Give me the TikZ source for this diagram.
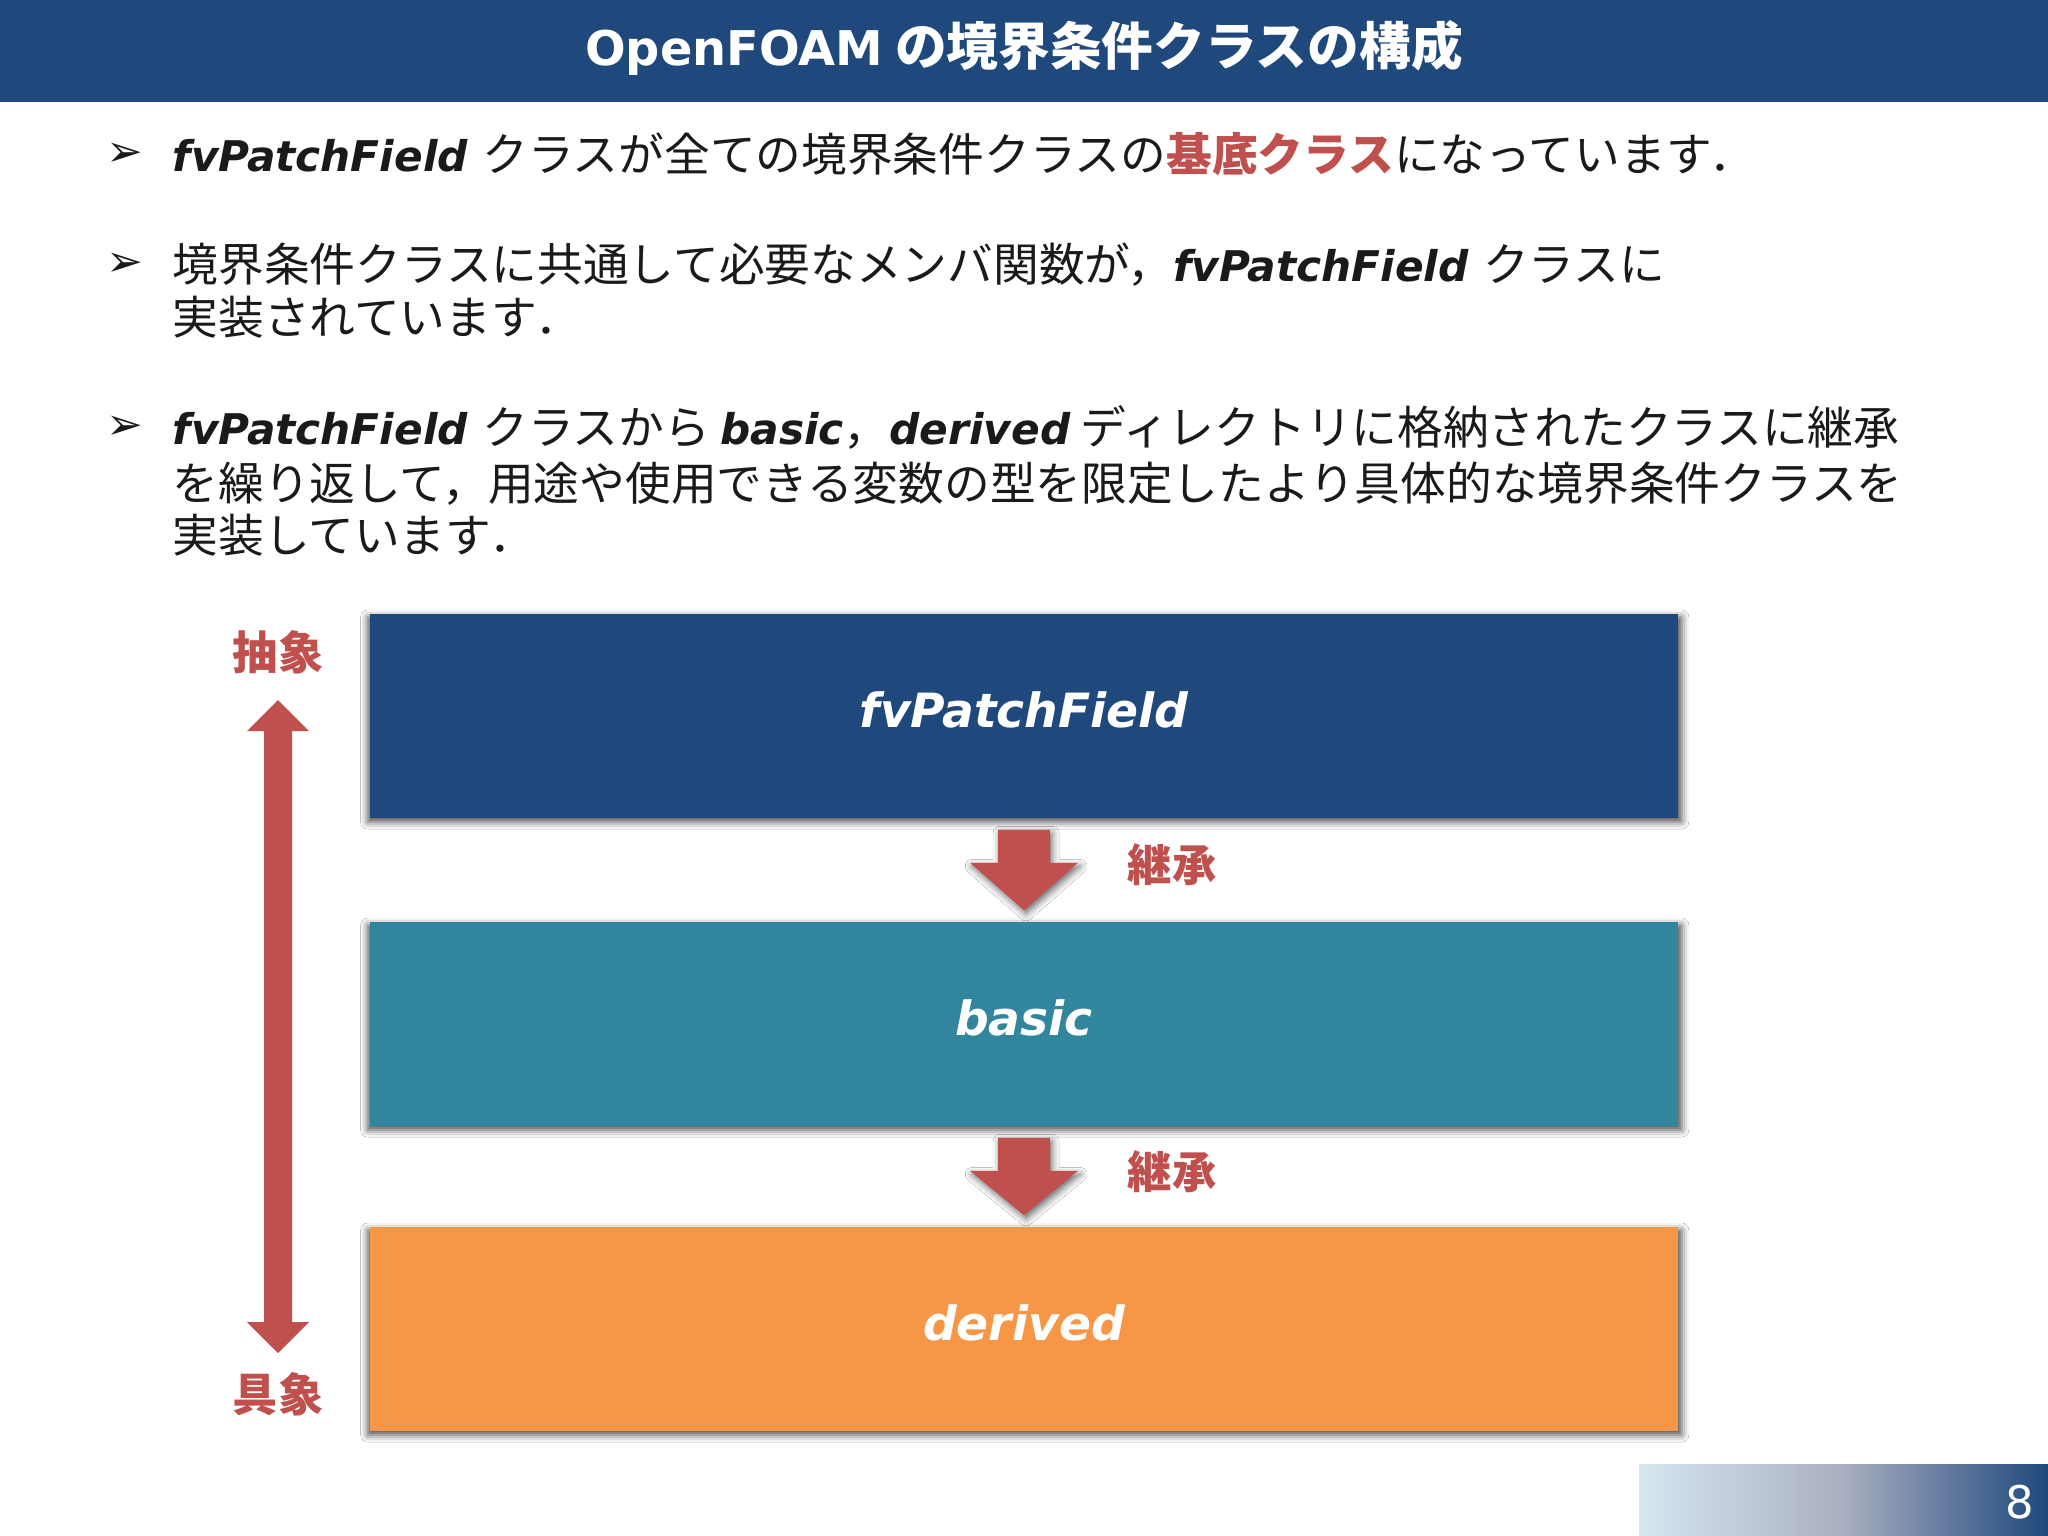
\documentclass[tikz,border=0pt]{standalone}
\usepackage{fontspec}
\setmainfont{Noto Sans CJK JP}
\newfontfamily\latin{DejaVu Sans}[Scale=0.925]
\newfontfamily\plainlatin{DejaVu Sans}
\usetikzlibrary{calc,shadows.blur}
\definecolor{navy}{HTML}{1F497D}
\definecolor{tealc}{HTML}{31859C}
\definecolor{orng}{HTML}{F79646}
\definecolor{redc}{HTML}{C0504D}
\definecolor{txt}{HTML}{1A1A1A}
\definecolor{pglight}{HTML}{D6E7F0}
\definecolor{pgmid}{HTML}{A9AFC1}
\newcommand{\setfs}[1]{\fontsize{#1}{#1}\selectfont}
\newcommand{\fvp}{{\latin\bfseries\itshape fvPatchField }}
\newcommand{\lat}[1]{{\latin\bfseries\itshape #1}}
\tikzset{
  titletext/.style={text=white, font=\setfs{14.7pt}\bfseries, inner sep=0pt},
  bodytext/.style={text=txt, font=\setfs{13.0pt}, anchor=base west, inner sep=0pt},
  bulletmark/.style={text=txt, font=\plainlatin\setfs{12.5pt}, inner sep=0pt},
  cls/.style={minimum width=13.08cm, minimum height=2.04cm, inner sep=0pt,
    text=white, font=\latin\bfseries\itshape\setfs{14.5pt}, text depth=3.7pt,
    blur shadow={shadow xshift=0.2pt, shadow yshift=-1.0pt, shadow blur radius=2.0pt, shadow opacity=70, shadow scale=1.004}},
  redlabel/.style={text=redc, font=\bfseries\setfs{12.6pt}, inner sep=0pt},
  blockarrow/.style={fill=redc, blur shadow={shadow xshift=0.6pt, shadow yshift=-1.0pt, shadow blur radius=2pt, shadow opacity=60}},
}
\newcommand{\inharrow}[2]{%
  \fill[blockarrow] ($(#1.south)+(-26,11)$) -- ($(#1.south)+(26,11)$)
    -- ($(#1.south)+(26,44)$) -- ($(#1.south)+(54,44)$)
    -- ($(#2.north)+(0,-11)$)
    -- ($(#1.south)+(-54,44)$) -- ($(#1.south)+(-26,44)$) -- cycle;}
\begin{document}
\begin{tikzpicture}[x=0.01cm,y=-0.01cm]
\useasboundingbox (0,0) rectangle (2048,1536);
\fill[white] (0,0) rectangle (2048,1536);
% title bar
\fill[navy] (0,0) rectangle (2048,102);
\node[titletext] (title) at (1024,48) {{\latin\bfseries OpenFOAM} の境界条件クラスの構成};
% bullets
\node[bulletmark] (b1) at (125,155) {➢};
\node[bodytext] (l1) at (172,171) {\fvp クラスが全ての境界条件クラスの{\bfseries\color{redc}基底クラス}になっています．};
\node[bulletmark] (b2) at (125,265) {➢};
\node[bodytext] (l2) at (172,281) {境界条件クラスに共通して必要なメンバ関数が，\fvp クラスに};
\node[bodytext] (l2b) at (172,334) {実装されています．};
\node[bulletmark] (b3) at (125,428) {➢};
\node[bodytext] (l3) at (172,444) {\fvp クラスから \lat{basic}，\lat{derived} ディレクトリに格納されたクラスに継承};
\node[bodytext] (l3b) at (172,500) {を繰り返して，用途や使用できる変数の型を限定したより具体的な境界条件クラスを};
\node[bodytext] (l3c) at (172,552) {実装しています．};
% class boxes
\node[cls, fill=navy] (fv) at (1024,716) {fvPatchField};
\node[cls, fill=tealc] (basic) at (1024,1024) {basic};
\node[cls, fill=orng] (derived) at (1024,1329) {derived};
% inheritance arrows
\inharrow{fv}{basic}
\inharrow{basic}{derived}
\node[redlabel] (inh1) at (1172,865) {継承};
\node[redlabel] (inh2) at (1172,1172) {継承};
% abstraction axis
\node[redlabel, font=\bfseries\setfs{12.9pt}] (abs) at (278,652) {抽象};
\node[redlabel, font=\bfseries\setfs{12.9pt}] (con) at (278,1394) {具象};
\fill[redc] ($(abs.center)+(0,48)$) -- ($(abs.center)+(31,79)$) -- ($(abs.center)+(14,79)$)
  -- ($(con.center)+(14,-72)$) -- ($(con.center)+(31,-72)$) -- ($(con.center)+(0,-41)$)
  -- ($(con.center)+(-31,-72)$) -- ($(con.center)+(-14,-72)$)
  -- ($(abs.center)+(-14,79)$) -- ($(abs.center)+(-31,79)$) -- cycle;
% page number
\shade[left color=pglight, right color=navy, middle color=pgmid] (1639,1464) rectangle (2048,1536);
\node[text=white, font=\plainlatin\setfs{12.8pt}, inner sep=0pt] (pg) at (2020,1502) {8};
\end{tikzpicture}
\end{document}
